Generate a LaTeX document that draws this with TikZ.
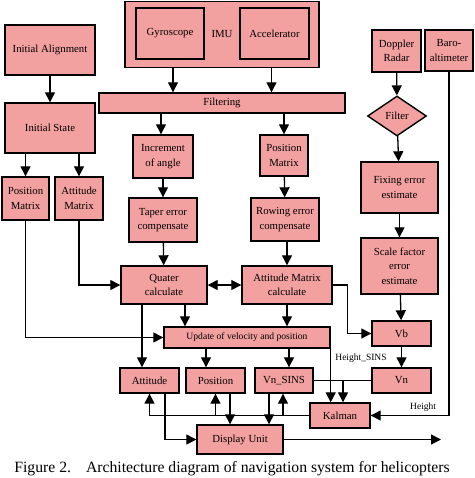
\documentclass[tikz,border=0pt]{standalone}
\usepackage{fontspec}
\setmainfont{Liberation Serif}
\usepackage{tikz}
\usetikzlibrary{arrows.meta, shapes.geometric, calc}
\definecolor{boxpink}{RGB}{243,160,160}

\begin{document}
\begin{tikzpicture}[x=1pt,y=-1pt,
	blk/.style={draw,fill=boxpink,line width=1.4pt,inner sep=0pt,align=center,
		font=\fontsize{10.8}{14.5}\selectfont},
	arr/.style={line width=1.3pt,-{Triangle[length=10pt,width=10pt]}},
	lnk/.style={line width=1.3pt},
	lbl/.style={inner sep=0pt,font=\fontsize{9.5}{10}\selectfont}]
	\useasboundingbox[fill=white] (0,0) rectangle (474,478);
	% NOTE: y runs downwards here, coordinates are pixels of the scan.
	\node[blk,minimum width=194pt,minimum height=66pt] (imu) at (222,34.5) {IMU};
	\node[blk,line width=2.2pt,minimum width=68pt,minimum height=51pt] (gyro) at (170,33.5) {Gyroscope};
	\node[blk,line width=2.2pt,minimum width=69pt,minimum height=51pt] (accel) at (274.5,33.5) {Accelerator};
	\node[blk,minimum width=246pt,minimum height=20pt] (filt) at (222,103) {Filtering};
	\node[blk,minimum width=90pt,minimum height=50pt] (ialign) at (50,50) {Initial Alignment};
	\node[blk,minimum width=90pt,minimum height=50pt] (istate) at (50,128) {Initial State};
	\node[blk,minimum width=47pt,minimum height=43pt] (pmat) at (25.5,198.5) {Position\\Matrix};
	\node[blk,minimum width=48pt,minimum height=43pt] (amat) at (79,198.5) {Attitude\\Matrix};
	\node[blk,minimum width=60pt,minimum height=43pt] (incr) at (163,156.5) {Increment\\of angle};
	\node[blk,minimum width=68pt,minimum height=44pt] (taper) at (163,220) {Taper error\\compensate};
	\node[blk,minimum width=86pt,minimum height=38pt] (quater) at (164,285) {Quater\\calculate};
	\node[blk,minimum width=48pt,minimum height=41pt] (pmatb) at (284,155.5) {Position\\Matrix};
	\node[blk,minimum width=68pt,minimum height=43pt] (rowing) at (285,219.5) {Rowing error\\compensate};
	\node[blk,minimum width=90pt,minimum height=38pt] (amc) at (287,285) {Attitude Matrix\\calculate};
	\node[blk,minimum width=49pt,minimum height=42pt] (doppler) at (396.5,51) {Doppler\\Radar};
	\node[blk,minimum width=48pt,minimum height=41pt] (baro) at (449,50.5) {Baro-\\altimeter};
	\node[blk,diamond,minimum width=59pt,minimum height=40pt] (filter) at (397,116) {Filter};
	\node[blk,minimum width=77pt,minimum height=51pt] (fixing) at (399.5,187.5) {Fixing error\\estimate};
	\node[blk,minimum width=77pt,minimum height=56pt] (scale) at (399.5,266) {Scale factor\\error\\estimate};
	\node[blk,minimum width=59pt,minimum height=25pt] (vb) at (401.5,333.5) {Vb};
	\node[blk,minimum width=59pt,minimum height=25pt] (vn) at (401.5,380.5) {Vn};
	\node[blk,minimum width=166pt,minimum height=21pt,font=\fontsize{9.6}{10}\selectfont] (update) at (247,337.5) {Update of velocity and position};
	\node[blk,minimum width=59pt,minimum height=25pt] (att) at (149.5,380.5) {Attitude};
	\node[blk,minimum width=59pt,minimum height=25pt] (pos) at (215.5,380.5) {Position};
	\node[blk,minimum width=58pt,minimum height=25pt] (vnsins) at (284,380.5) {Vn\_SINS};
	\node[blk,minimum width=60pt,minimum height=25pt] (kalman) at (340,415.5) {Kalman};
	\node[blk,minimum width=86pt,minimum height=29pt] (disp) at (240,439.5) {Display Unit};
	\coordinate (dout) at (441,439.5);
	\node[lbl] (hsins) at (361,358) {Height\_SINS};
	\node[font=\fontsize{15.7}{16}\selectfont,inner sep=0pt] (cap) at (232,469)
		{Figure 2.\hspace{15pt}Architecture diagram of navigation system for helicopters};

	\draw[arr] ([xshift=3pt]gyro |- imu.south) -- ([xshift=3pt]gyro |- filt.north);
	\draw[arr] ([xshift=-3pt]accel |- imu.south) -- ([xshift=-3pt]accel |- filt.north);
	\draw[arr] (ialign) -- (istate);
	\draw[arr] (pmat |- istate.south) -- (pmat.north);
	\draw[arr] (amat |- istate.south) -- (amat.north);
	\draw[arr] ([xshift=-2pt]incr.north |- filt.south) -- ([xshift=-2pt]incr.north);
	\draw[arr] (incr) -- (taper);
	\draw[arr] (taper) -- (quater);
	\draw[arr] (pmatb |- filt.south) -- (pmatb.north);
	\draw[arr] (pmatb) -- (rowing);
	\draw[arr] (rowing.south -| amc) -- (amc.north);
	\draw[arr] (amat.south) |- (quater.west);
	\draw[line width=1.3pt,{Triangle[length=10pt,width=10pt]}-{Triangle[length=10pt,width=10pt]}] (quater) -- (amc);
	\draw[arr] (pmat.south) |- (update.west);
	\draw[arr] ([xshift=21pt]quater.south) -- ([xshift=21pt]quater.south |- update.north);
	\draw[arr] (amc) -- (amc |- update.north);
	\draw[arr] ([xshift=-22pt]quater.south) -- ([xshift=-22pt]quater.south |- att.north);
	\draw[arr] ([xshift=-9.5pt]pos.north |- update.south) -- ([xshift=-9.5pt]pos.north);
	\draw[arr] ([xshift=5pt]vnsins.north |- update.south) -- ([xshift=5pt]vnsins.north);
	\draw[arr] (update.south east) -- (update.south east |- kalman.north);
	\draw[arr] (amc.east) -- ++(15,0) |- (vb.west);
	\draw[arr] (doppler) -- (filter);
	\draw[arr] (filter) -- (fixing);
	\draw[arr] (fixing) -- (scale);
	\draw[arr] (scale) -- (vb);
	\draw[arr] (vb) -- (vn);
	\draw[arr] (baro.south) |- node[lbl,above=3pt,pos=0.665] {Height} (kalman.east);
	\draw[lnk] (vn.west) -- (vnsins.east);
	\draw[arr] ([xshift=3pt]kalman.north |- vn.west) -- ([xshift=3pt]kalman.north);
	\draw[lnk] (kalman.west) -- (att.south |- kalman.west);
	\draw[arr] (att.south |- kalman.west) -- (att.south);
	\draw[arr] (pos.south |- kalman.west) -- (pos.south);
	\draw[arr] ([xshift=-1pt]vnsins.south |- kalman.west) -- ([xshift=-1pt]vnsins.south);
	\draw[arr] ([xshift=14.5pt]pos.south) -- ([xshift=14.5pt]pos.south |- disp.north);
	\draw[arr] ([xshift=-15pt]vnsins.south) -- ([xshift=-15pt]vnsins.south |- disp.north);
	\draw[arr] ([xshift=15.5pt]att.south) |- (disp.west);
	\draw[arr] (disp.east) -- (dout);
\end{tikzpicture}
\end{document}
